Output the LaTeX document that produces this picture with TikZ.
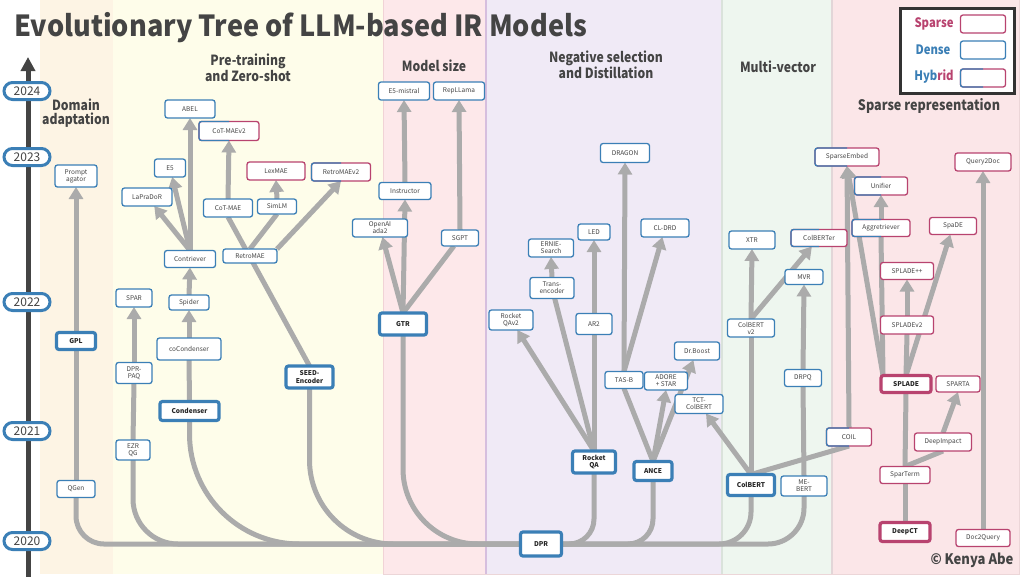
\documentclass[tikz,border=0pt]{standalone}
\usepackage{fontspec}
\usepackage{graphicx}
\setmainfont{Noto Sans CJK JP}
\usetikzlibrary{arrows.meta,calc}
\definecolor{bl}{HTML}{3B7FB6}
\definecolor{pk}{HTML}{B8436F}
\definecolor{eg}{HTML}{ABABAB}
\definecolor{tx}{HTML}{444444}
\definecolor{bandA}{HTML}{FDF4E4}
\definecolor{bandB}{HTML}{FEFDEA}
\definecolor{bandC}{HTML}{FDE8EA}
\definecolor{bandD}{HTML}{F0EAF6}
\definecolor{bandE}{HTML}{EEF6EF}
\definecolor{bandF}{HTML}{FBE6E8}
\definecolor{bordC}{HTML}{F1D3D6}
\definecolor{bordD}{HTML}{D6BEDE}
\definecolor{bordE}{HTML}{DAE2DB}
\definecolor{bordF}{HTML}{E2D6D8}
\definecolor{bordG}{HTML}{ECD6D8}
\pgfdeclarelayer{bg}
\pgfdeclarelayer{ed}
\pgfsetlayers{bg,ed,main}
\newcommand\hyb[1]{\begin{scope}\clip ($(#1.south west)+(-4,4)$) rectangle ($(#1.north)+(0,-4)$);
  \draw[bl, line width=1.3pt, rounded corners=2.5pt] (#1.south west) rectangle (#1.north east);\end{scope}}
\newcommand\hs[1]{\scalebox{0.87}[1]{#1}}
\begin{document}
\begin{tikzpicture}[x=1pt,y=-1pt,
  nd/.style={draw, fill=white, rounded corners=2.5pt, line width=1.3pt, inner sep=0.5pt, outer sep=0pt,
     font=\fontsize{6.5}{6.9}\selectfont, text=tx, align=center},
  dn/.style={nd, draw=bl},
  sp/.style={nd, draw=pk},
  hy/.style={nd, draw=pk},
  thk/.style={line width=3.2pt, font=\fontsize{6.6}{7.2}\selectfont\bfseries, text=black!85},
  ln/.style={draw=eg, line width=5pt},
  ar/.style={ln, -{Triangle[width=14pt,length=12pt]}},
  yr/.style={draw=bl, fill=white, line width=3pt, rounded corners=8.5pt, minimum width=46pt, minimum height=17pt,
     inner sep=0pt, font=\fontsize{12}{12}\selectfont, text=tx},
  hd/.style={font=\fontsize{14}{15}\selectfont\bfseries, text=tx, inner sep=0pt},
  lg/.style={font=\fontsize{13}{13}\selectfont\bfseries, inner sep=0pt},
]
\useasboundingbox (0,0) rectangle (1024,576);
% ---------- bands
\begin{pgfonlayer}{bg}
\fill[white] (0,0) rectangle (1024,576);
\fill[bandA] (40,-5) rectangle (113,574);
\fill[bandB] (113,-5) rectangle (383,574);
\fill[bandC] (383,-5) rectangle (486,574);
\fill[bandD] (486,-5) rectangle (722,574);
\fill[bandE] (722,-5) rectangle (832,574);
\fill[bandF] (832,-5) rectangle (1019,574);
\draw[bordC, line width=1pt] (383,-5) -- (383,574);
\draw[bordD, line width=2pt] (486,-5) -- (486,574);
\draw[bordE, line width=2pt] (722,-5) -- (722,574);
\draw[bordF, line width=2pt] (832,-5) -- (832,574);
\draw[bordG, line width=1pt] (383,574) -- (1019,574) -- (1019,-5);
\end{pgfonlayer}
% ---------- title and headings
\node[anchor=west, font=\fontsize{29}{30}\selectfont\bfseries, text=tx, inner sep=0pt] (title) at (14,28)
  {\scalebox{0.935}[1]{Evolutionary Tree of LLM-based IR Models}};
\node[hd] (hdomA) at (76,105) {\hs{Domain}};
\node[hd] (hdomB) at (76,120) {\hs{adaptation}};
\node[hd] (hpreA) at (248,61) {\hs{Pre-training}};
\node[hd] (hpreB) at (248,76) {\hs{and Zero-shot}};
\node[hd] (hsize) at (434,66) {\hs{Model size}};
\node[hd] (hnegA) at (606,58) {\hs{Negative selection}};
\node[hd] (hnegB) at (606,73) {\hs{and Distillation}};
\node[hd] (hmv) at (778,67) {\hs{Multi-vector}};
\node[hd, font=\fontsize{14.5}{15}\selectfont\bfseries] (hsp) at (929,106) {\hs{Sparse representation}};
\node[hd, font=\fontsize{14.5}{15}\selectfont\bfseries] (copy) at (972,560) {\scalebox{0.9}[1]{© Kenya Abe}};
% ---------- timeline
\coordinate (tbot) at (28,578);
\coordinate (ttop) at (28,57);
\draw[line width=5pt, color=tx, -{Triangle[width=14pt,length=14pt]}] (tbot) -- (ttop);
\node[yr] (y2024) at (27,91) {2024};
\node[yr] (y2023) at (27,157) {2023};
\node[yr] (y2022) at (27,302) {2022};
\node[yr] (y2021) at (27,431) {2021};
\node[yr] (y2020) at (27,541) {2020};
% ---------- legend
\node[draw=black!80, line width=3.4pt, fill=white, minimum width=114pt, minimum height=85pt] (legend) at (957.5,51) {};
\node[lg, text=pk] (lgs) at (934,24) {\hs{Sparse}};
\node[lg, text=bl] (lgd) at (933,50) {\hs{Dense}};
\node[lg] (lgh) at (934,77) {\hs{\textcolor{bl}{Hyb}\textcolor{pk}{rid}}};
\node[sp, minimum width=45pt, minimum height=18pt] (lgsb) at (983,24) {};
\node[dn, minimum width=45pt, minimum height=18pt] (lgdb) at (983,50) {};
\node[hy, minimum width=45pt, minimum height=18pt] (lghb) at (983,78) {}; \hyb{lghb}
% ---------- nodes
\node[dn, minimum width=42pt, minimum height=22pt] (Prompt) at (76,176) {Prompt\\agator};
\node[dn, thk, minimum width=39pt, minimum height=17pt] (GPL) at (76,341) {GPL};
\node[dn, minimum width=38pt, minimum height=17pt] (QGen) at (76,489) {QGen};
\node[dn, minimum width=36pt, minimum height=18pt] (SPAR) at (134,298) {SPAR};
\node[dn, minimum width=36pt, minimum height=21pt] (DPRPAQ) at (134,373) {DPR-\\PAQ};
\node[dn, minimum width=34pt, minimum height=20pt] (EZR) at (133,450) {EZR\\QG};
\node[dn, minimum width=50pt, minimum height=18pt] (ABEL) at (190,109) {ABEL};
\node[hy, minimum width=60pt, minimum height=19pt] (CoTMAEv2) at (229,131) {CoT-MAEv2}; \hyb{CoTMAEv2}
\node[dn, minimum width=31pt, minimum height=18pt] (E5) at (170,168) {E5};
\node[dn, minimum width=50pt, minimum height=18pt] (LaPraDoR) at (147,197) {LaPraDoR};
\node[dn, minimum width=51pt, minimum height=17pt] (Contriever) at (190,259) {Contriever};
\node[dn, minimum width=49pt, minimum height=18pt] (CoTMAE) at (228,208) {CoT-MAE};
\node[dn, minimum width=39pt, minimum height=15pt] (SimLM) at (277,206.5) {SimLM};
\node[sp, minimum width=58pt, minimum height=18pt] (LexMAE) at (276,171) {LexMAE};
\node[hy, minimum width=59pt, minimum height=18pt] (RetroMAEv2) at (341,172) {RetroMAEv2}; \hyb{RetroMAEv2}
\node[dn, minimum width=54pt, minimum height=14pt] (RetroMAE) at (250,256) {RetroMAE};
\node[dn, minimum width=40pt, minimum height=15pt] (Spider) at (189,302.5) {Spider};
\node[dn, minimum width=64pt, minimum height=22pt] (coCondenser) at (189,349) {coCondenser};
\node[dn, thk, minimum width=59pt, minimum height=19pt] (Condenser) at (189.5,411) {Condenser};
\node[dn, thk, minimum width=47pt, minimum height=22pt] (SEED) at (309.5,377) {SEED-\\Encoder};
\node[dn, minimum width=51pt, minimum height=18pt] (E5m) at (404,91) {E5-mistral};
\node[dn, minimum width=51pt, minimum height=18pt] (RepLLama) at (459,91) {RepLLama};
\node[dn, minimum width=52pt, minimum height=17pt] (Instructor) at (405,191) {Instructor};
\node[dn, minimum width=55pt, minimum height=18pt] (OpenAI) at (380,228) {OpenAI\\ada2};
\node[dn, minimum width=37pt, minimum height=16pt] (SGPT) at (460,238) {SGPT};
\node[dn, thk, minimum width=47pt, minimum height=22pt] (GTR) at (403,324) {GTR};
\node[dn, minimum width=49pt, minimum height=19pt] (DRAGON) at (625,153) {DRAGON};
\node[dn, minimum width=45pt, minimum height=18pt] (ERNIE) at (551,248) {ERNIE-\\Search};
\node[dn, minimum width=32pt, minimum height=16pt] (LED) at (594,232) {LED};
\node[dn, minimum width=48pt, minimum height=18pt] (CLDRD) at (665,228) {CL-DRD};
\node[dn, minimum width=44pt, minimum height=21pt] (Trans) at (552,288) {Trans-\\encoder};
\node[dn, minimum width=44pt, minimum height=20pt] (RocketQAv2) at (511,320) {Rocket\\QAv2};
\node[dn, minimum width=36pt, minimum height=21pt] (AR2) at (594,324) {AR2};
\node[dn, minimum width=45pt, minimum height=18pt] (DrBoost) at (697,351) {Dr.Boost};
\node[dn, minimum width=38pt, minimum height=17pt] (TASB) at (624,380) {TAS-B};
\node[dn, minimum width=43pt, minimum height=18pt] (ADORE) at (666,381) {ADORE\\+ STAR};
\node[dn, minimum width=48pt, minimum height=19pt] (TCT) at (699,404) {TCT-\\ColBERT};
\node[dn, thk, minimum width=43pt, minimum height=22pt] (RocketQA) at (594,462) {Rocket\\QA};
\node[dn, thk, minimum width=38pt, minimum height=19pt] (ANCE) at (653,471) {ANCE};
\node[dn, thk, minimum width=41pt, minimum height=24pt] (DPR) at (541,544) {DPR};
\node[dn, minimum width=46pt, minimum height=18pt] (XTR) at (752,240) {XTR};
\node[dn, minimum width=47pt, minimum height=18pt] (ColBERTv2) at (751,328) {ColBERT\\v2};
\node[hy, minimum width=56pt, minimum height=17pt] (ColBERTer) at (819,238) {ColBERTer}; \hyb{ColBERTer}
\node[dn, minimum width=38pt, minimum height=15pt] (MVR) at (804,277) {MVR};
\node[dn, minimum width=37pt, minimum height=17pt] (DRPQ) at (803,378) {DRPQ};
\node[dn, thk, minimum width=47pt, minimum height=21pt] (ColBERT) at (751,485) {ColBERT};
\node[dn, minimum width=46pt, minimum height=20pt] (MEBERT) at (804,486) {ME-\\BERT};
\node[hy, minimum width=45pt, minimum height=18pt] (COIL) at (849,437) {COIL}; \hyb{COIL}
\node[hy, minimum width=64pt, minimum height=18pt] (SparseEmbed) at (847,157) {SparseEmbed}; \hyb{SparseEmbed}
\node[sp, minimum width=56pt, minimum height=18pt] (Query2Doc) at (983,162) {Query2Doc};
\node[hy, minimum width=53pt, minimum height=18pt] (Unifier) at (881,186) {Unifier}; \hyb{Unifier}
\node[hy, minimum width=58pt, minimum height=17pt] (Aggre) at (881,228) {Aggretriever}; \hyb{Aggre}
\node[sp, minimum width=47pt, minimum height=17pt] (SpaDE) at (953,226) {SpaDE};
\node[sp, minimum width=53pt, minimum height=17pt] (SPLADEpp) at (907,271) {SPLADE++};
\node[sp, minimum width=53pt, minimum height=18pt] (SPLADEv2) at (907,325) {SPLADEv2};
\node[sp, thk, minimum width=50pt, minimum height=17pt] (SPLADE) at (906,384) {SPLADE};
\node[sp, minimum width=44pt, minimum height=16pt] (SPARTA) at (958,384) {SPARTA};
\node[sp, minimum width=57pt, minimum height=18pt] (DeepImpact) at (943,442) {DeepImpact};
\node[sp, minimum width=50pt, minimum height=17pt] (SparTerm) at (905,475) {SparTerm};
\node[sp, thk, minimum width=50pt, minimum height=19pt] (DeepCT) at (905,532) {DeepCT};
\node[sp, minimum width=54pt, minimum height=17pt] (Doc2Query) at (983,538) {Doc2Query};
% ---------- connectors
\begin{pgfonlayer}{ed}
% trunk
\draw[ln, rounded corners=28pt] (QGen.south) |- (DPR.west);
\draw[ln, rounded corners=45pt] (EZR.south) |- (DPR.west);
\draw[ln, rounded corners=110pt] (Condenser.south) |- (DPR.west);
\draw[ln, rounded corners=84pt] (SEED.south) |- (DPR.west);
\draw[ln, rounded corners=75pt] (GTR.south) |- (DPR.west);
\draw[ln, rounded corners=25pt] (RocketQA.south) |- (DPR.east);
\draw[ln, rounded corners=25pt] (ANCE.south) |- (DPR.east);
\draw[ln, rounded corners=32pt] (ColBERT.south) |- (DPR.east);
\draw[ln, rounded corners=36pt] (MEBERT.south) |- (DPR.east);
% domain adaptation
\draw[ln] (QGen.north) -- (GPL.south);
\draw[ar] (GPL.north) -- (Prompt.south);
% pre-training
\draw[ln] (EZR.north) -- (DPRPAQ.south);
\draw[ar] (DPRPAQ.north) -- (SPAR.south);
\draw[ln] (Condenser.north) -- (coCondenser.south);
\draw[ar] (coCondenser.north) -- (Spider.south);
\draw[ar] (Spider.north) -- (Contriever.south);
\draw[ar] (Contriever.north) -- (LaPraDoR);
\draw[ar] (Contriever.north) -- (E5);
\draw[ar] (Contriever.north) -- (ABEL.south);
\draw[ln] (SEED.north) -- (CoTMAE.south);
\draw[ln] (RetroMAE.north) -- (SimLM.south);
\draw[ar] (RetroMAE.north east) -- (RetroMAEv2.south);
\draw[ar] (CoTMAE.north) -- (CoTMAEv2.south);
\draw[ar] (SimLM.north) -- (LexMAE.south);
% model size
\draw[ar] (GTR.north) -- (OpenAI);
\draw[ar] (GTR.north) -- (Instructor.south);
\draw[ln] (GTR.north) -- (SGPT);
\draw[ar] (Instructor.north) -- (E5m.south);
\draw[ar] (SGPT.north) -- (RepLLama.south);
% negatives
\draw[ar] (RocketQA.north) -- (RocketQAv2);
\draw[ln] (RocketQA.north) -- (Trans);
\draw[ar] (Trans.north) -- (ERNIE.south);
\draw[ln] (RocketQA.north) -- (AR2.south);
\draw[ar] (AR2.north) -- (LED.south);
\draw[ln] (ANCE.north) -- (TASB.south);
\draw[ar] (TASB.north) -- (DRAGON.south);
\draw[ar] (TASB.north) -- (CLDRD);
\draw[ar] (ANCE.north) -- (ADORE.south);
\draw[ar] (ANCE.north) -- (DrBoost);
% multi-vector
\draw[ar] (ColBERT.north) -- (TCT);
\draw[ln] (ColBERT.north) -- (ColBERTv2.south);
\draw[ar] (ColBERTv2.north) -- (XTR.south);
\draw[ar] (ColBERTv2.north) -- (ColBERTer);
\draw[ln] (ColBERT.north) -- (COIL.south);
\draw[ln] (MEBERT.north) -- (DRPQ.south);
\draw[ar] (DRPQ.north) -- (MVR.south);
% sparse
\draw[ar] (COIL.north) -- (SparseEmbed.south);
\draw[ln] (DeepCT.north) -- (SparTerm.south);
\draw[ln] (SparTerm.north) -- (SPLADE.south);
\draw[ln] (SparTerm.north) -- (DeepImpact.south);
\draw[ar] (DeepImpact.north) -- (SPARTA.south);
\draw[ln] (SPLADE.north) -- (SPLADEv2.south);
\draw[ar] (SPLADEv2.north) -- (SPLADEpp.south);
\draw[ar] (SPLADE.north) -- (SpaDE);
\draw[ln] ([xshift=2pt]SPLADE.north west) -- (Aggre.south);
\draw[ar] (Aggre.north) -- (Unifier.south);
\draw[ar] ([xshift=2pt]SPLADE.north west) -- (SparseEmbed.south);
\draw[ar] (Doc2Query.north) -- (Query2Doc.south);
\end{pgfonlayer}
\end{tikzpicture}
\end{document}
